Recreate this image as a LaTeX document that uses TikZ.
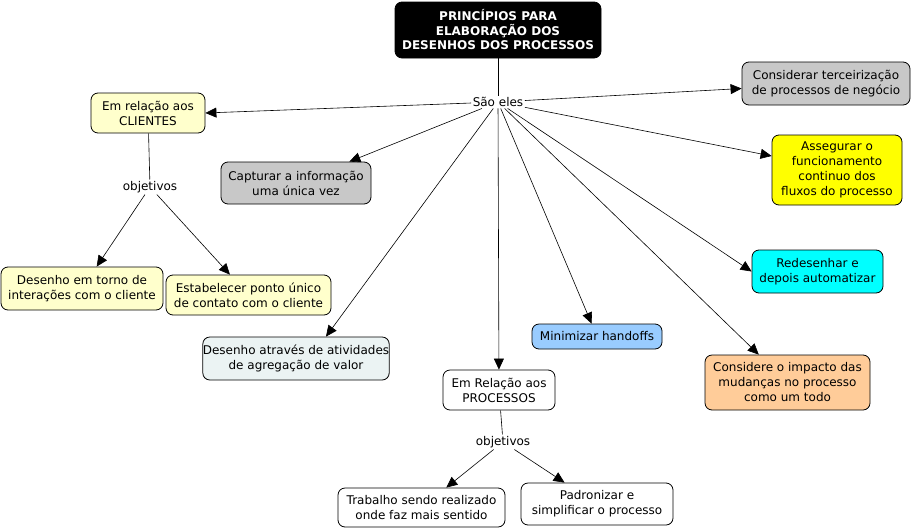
\documentclass[tikz,border=0pt]{standalone}
\usepackage{fontspec}
\setmainfont{DejaVu Sans}
\usetikzlibrary{arrows.meta}
\definecolor{cliy}{HTML}{FFFFCC}
\definecolor{gr}{HTML}{C8C8C8}
\definecolor{pale}{HTML}{EBF3F3}
\definecolor{lblue}{HTML}{99CCFF}
\definecolor{peach}{HTML}{FFCC99}
\definecolor{cyanfill}{HTML}{00FFFF}
\definecolor{yelfill}{HTML}{FFFF00}
\begin{document}
\begin{tikzpicture}[x=1pt,y=-1pt,
 box/.style={draw=black,line width=0.8pt,rounded corners=7pt,align=center,font=\fontsize{12}{15}\selectfont,inner sep=0pt},
 lab/.style={font=\fontsize{12}{15}\selectfont,inner sep=1.5pt},
 arr/.style={-{Triangle[length=11pt,width=10pt]},line width=0.6pt},
 ln/.style={line width=0.6pt}]
\useasboundingbox (0,0) rectangle (912,530);
\node[box,fill=black,text=white,font=\bfseries\fontsize{12}{14.5}\selectfont,minimum width=206pt,minimum height=56pt] (title) at (498,30) {PRINCÍPIOS PARA\\ELABORAÇÃO DOS\\DESENHOS DOS PROCESSOS};
\node[lab] (se) at (498,102) {São eles};
\node[box,fill=cliy,minimum width=114pt,minimum height=40pt] (cli) at (148,113) {Em relação aos\\CLIENTES};
\node[lab] (ob1) at (150,187) {objetivos};
\node[box,fill=cliy,minimum width=162pt,minimum height=43pt] (tor) at (82,288.5) {Desenho em torno de\\interações com o cliente};
\node[box,fill=cliy,minimum width=165pt,minimum height=40pt] (est) at (248.5,295) {Estabelecer ponto único\\de contato com o cliente};
\node[box,fill=gr,minimum width=150pt,minimum height=42pt] (cap) at (296,183) {Capturar a informação\\uma única vez};
\node[box,fill=pale,minimum width=178pt,minimum height=43pt] (atr) at (296,358.5) {Desenho através de atividades\\de agregação de valor};
\node[box,fill=white,minimum width=112pt,minimum height=40pt] (proc) at (499,390) {Em Relação aos\\PROCESSOS};
\node[lab] (ob2) at (503,442) {objetivos};
\node[box,fill=white,minimum width=167pt,minimum height=39pt] (trab) at (421.5,507.5) {Trabalho sendo realizado\\onde faz mais sentido};
\node[box,fill=white,minimum width=152pt,minimum height=42pt] (padr) at (597,504) {Padronizar e\\simplificar o processo};
\node[box,fill=lblue,minimum width=130pt,minimum height=25pt] (min) at (597,336.5) {Minimizar handoffs};
\node[box,fill=peach,minimum width=165pt,minimum height=55pt] (cons) at (787.5,382.5) {Considere o impacto das\\mudanças no processo\\como um todo};
\node[box,fill=cyanfill,minimum width=131pt,minimum height=43pt] (red) at (817.5,271.5) {Redesenhar e\\depois automatizar};
\node[box,fill=yelfill,minimum width=130pt,minimum height=70pt] (ass) at (837,170) {Assegurar o\\funcionamento\\continuo dos\\fluxos do processo};
\node[box,fill=gr,minimum width=168pt,minimum height=43pt] (ter) at (826,83.5) {Considerar terceirização\\de processos de negócio};

\draw[ln] (title) -- (se);
\draw[arr] (se) -- (cli.east);
\draw[arr] (se) -- (cap);
\draw[arr] (se) -- ([xshift=30pt]atr.north);
\draw[arr] (se) -- (proc);
\draw[arr] (se) -- (min);
\draw[arr] (se) -- (cons);
\draw[arr] (se) -- (red.west);
\draw[arr] (se) -- ([yshift=14pt]ass.west);
\draw[arr] (se) -- ([yshift=-5pt]ter.west);
\draw[ln] (cli) -- (ob1);
\draw[arr] (ob1) -- (tor);
\draw[arr] (ob1) -- (est);
\draw[ln] (proc) -- (ob2);
\draw[arr] (ob2) -- (trab);
\draw[arr] (ob2) -- (padr);
\end{tikzpicture}
\end{document}
